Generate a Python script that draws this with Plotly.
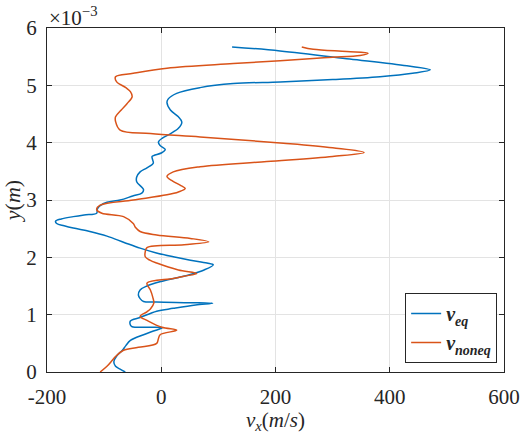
import plotly.graph_objects as go

# v_eq (blue): x in m/s, y in units of 1e-3 m
eq_x = [124, 208, 330, 430, 471, 440, 383, 300, 208, 126, 68, 27, 12, 10, 16, 30, 36, 30, 15, 2, -5, -2, 7, 0,
        -16, -15, -14, -25, -37, -43, -43, -31, -34, -50, -72, -95, -107, -112, -113, -135, -154, -175, -185, -183,
        -170, -154, -125, -95, -65, -37, -10, 21, 51, 80, 91, 75, 51, 30, 0, -25, -37, -40, -37, -31, -8, 50, 90,
        60, 21, -8, -37, -54, -54, -51, -19, 2, -15, -31, -54, -62, -68, -78, -83, -80, -72, -63]
eq_y = [5.67, 5.60, 5.46, 5.34, 5.27, 5.21, 5.15, 5.10, 5.06, 5.03, 4.96, 4.86, 4.76, 4.70, 4.57, 4.45, 4.36, 4.25,
        4.15, 4.08, 4.01, 3.95, 3.88, 3.82, 3.76, 3.70, 3.64, 3.56, 3.49, 3.40, 3.32, 3.18, 3.12, 3.07, 3.00, 2.96,
        2.90, 2.84, 2.77, 2.74, 2.71, 2.67, 2.63, 2.59, 2.55, 2.51, 2.45, 2.37, 2.26, 2.16, 2.08, 2.01, 1.95, 1.90,
        1.87, 1.78, 1.70, 1.65, 1.58, 1.50, 1.43, 1.34, 1.28, 1.23, 1.22, 1.21, 1.20, 1.17, 1.11, 1.06, 0.95, 0.89,
        0.82, 0.79, 0.78, 0.77, 0.71, 0.65, 0.55, 0.46, 0.38, 0.28, 0.18, 0.10, 0.05, 0.0]

# v_noneq (orange)
neq_x = [246, 266, 325, 362, 348, 300, 266, 208, 126, 10, -49, -80, -78, -62, -54, -51, -60, -70, -80, -80, -72,
         -19, 68, 214, 300, 355, 300, 185, 68, 21, 10, 20, 33, 42, 30, 10, -49, -107, -113, -104, -66, -49, -45,
         -37, -8, 51, 83, 40, -25, -28, -28, -20, -8, 30, 62, 40, 21, -25, -19, -15, -13, -19, -25, -37, -25, 1,
         27, -2, -5, -8, -40, -66, -80, -86, -95, -107]
neq_y = [5.67, 5.63, 5.59, 5.56, 5.52, 5.49, 5.47, 5.43, 5.38, 5.30, 5.21, 5.15, 5.06, 4.96, 4.89, 4.80, 4.68,
         4.57, 4.45, 4.37, 4.22, 4.16, 4.10, 3.99, 3.91, 3.83, 3.76, 3.67, 3.58, 3.49, 3.41, 3.33, 3.26, 3.20, 3.14,
         3.09, 3.00, 2.91, 2.83, 2.77, 2.71, 2.59, 2.52, 2.45, 2.39, 2.33, 2.27, 2.22, 2.17, 2.10, 2.01, 1.95, 1.90,
         1.78, 1.72, 1.67, 1.63, 1.55, 1.43, 1.31, 1.20, 1.10, 1.05, 0.97, 0.90, 0.78, 0.73, 0.65, 0.58, 0.50, 0.43,
         0.38, 0.27, 0.20, 0.10, 0.0]

x_ticks = [-200, 0, 200, 400, 600]
y_ticks = [0, 1, 2, 3, 4, 5, 6]

FONT = "Times New Roman, Liberation Serif, serif"
AX = "#262626"

fig = go.Figure()
fig.add_trace(go.Scatter(x=eq_x, y=eq_y, mode="lines", name="<b><i>v<sub>eq</sub></i></b>",
                         line=dict(color="#0072BD", width=1.5), line_shape="spline"))
fig.add_trace(go.Scatter(x=neq_x, y=neq_y, mode="lines", name="<b><i>v<sub>noneq</sub></i></b>",
                         line=dict(color="#D95319", width=1.5), line_shape="spline"))

axis_common = dict(showline=True, linecolor=AX, linewidth=1, mirror="ticks", ticks="inside", ticklen=5,
                   tickcolor=AX, showgrid=True, gridcolor="#e3e3e3", gridwidth=1, zeroline=False,
                   automargin=False, ticklabeloverflow="allow", tickfont=dict(family=FONT, size=21, color=AX))

fig.update_xaxes(range=[-200, 600], tickvals=x_ticks, ticktext=[str(v) for v in x_ticks], ticklabelstandoff=6,
                 title=dict(text="<i>v<sub>x</sub></i>(<i>m</i>/<i>s</i>)", font=dict(family=FONT, size=21, color=AX),
                            standoff=12), **axis_common)
fig.update_yaxes(range=[0, 6], tickvals=y_ticks, ticktext=[str(v) for v in y_ticks], ticklabelstandoff=5,
                 title=dict(text="<i>y</i>(<i>m</i>)", font=dict(family=FONT, size=22, color=AX), standoff=6),
                 **axis_common)

fig.add_annotation(text="×10<sup>−3</sup>", xref="paper", yref="paper", x=0.0, y=1.0, xanchor="left",
                   yanchor="bottom", showarrow=False, font=dict(family=FONT, size=21, color=AX), yshift=-4)

fig.update_layout(width=520, height=434, margin=dict(l=47, r=16, t=28, b=62),
                  paper_bgcolor="white", plot_bgcolor="white",
                  font=dict(family=FONT, color=AX),
                  legend=dict(x=0.985, y=0.026, xanchor="right", yanchor="bottom", bgcolor="white",
                              bordercolor=AX, borderwidth=1, font=dict(family=FONT, size=20, color=AX),
                              tracegroupgap=0, itemwidth=30))

fig.write_html("out.html")
